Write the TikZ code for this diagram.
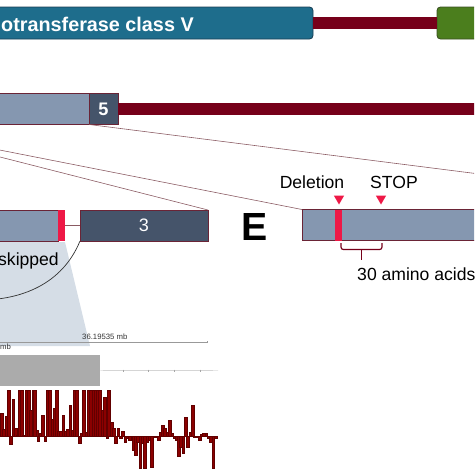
\documentclass[tikz,border=0pt]{standalone}
\usepackage{fontspec}
\setmainfont{Liberation Sans}
\usetikzlibrary{shapes.geometric}
\definecolor{domblue}{HTML}{1E6D8C}
\definecolor{domblueedge}{HTML}{1A3F55}
\definecolor{domgreen}{HTML}{4B7E1D}
\definecolor{domgreenedge}{HTML}{3A4F22}
\definecolor{intronred}{HTML}{76001A}
\definecolor{exonlight}{HTML}{8597B0}
\definecolor{exondark}{HTML}{45546A}
\definecolor{exonedge}{HTML}{6A2436}
\definecolor{hotred}{HTML}{EE1846}
\definecolor{linkbrown}{HTML}{8A5A62}
\definecolor{zoomgrey}{HTML}{D5DDE6}
\definecolor{trackgrey}{HTML}{ABABAB}
\definecolor{barred}{HTML}{8B0000}
\newcommand\pxu{0.03cm}
\tikzset{
  protdom/.style={rounded corners=3pt,line width=.7pt,inner sep=0pt,outer sep=0pt,minimum height=32*\pxu},
  exon/.style={draw=exonedge,line width=.6pt,inner sep=0pt,outer sep=0pt,minimum height=31*\pxu},
  hotbar/.style={fill=hotred,inner sep=0pt,outer sep=0pt,minimum width=7*\pxu,minimum height=31*\pxu},
  intron/.style={draw=intronred,line width=12*\pxu},
  zoomline/.style={draw=linkbrown,line width=.5pt},
  marker/.style={regular polygon,regular polygon sides=3,shape border rotate=180,fill=hotred,inner sep=0pt,minimum size=12*\pxu},
  lbl/.style={font=\fontsize{15}{17}\selectfont},
  bracket/.style={draw=intronred,line width=1pt,rounded corners=2pt},
  tinytxt/.style={font=\fontsize{6.6}{7}\selectfont,text=black!80,inner sep=0pt},
  bar/.style={fill=barred,draw=barred!70!black,line width=.25pt}}
\begin{document}
\begin{tikzpicture}[x=0.03cm,y=-0.03cm]
\useasboundingbox (0,0) rectangle (474,474);
\clip (0,0) rectangle (474,474);
% protein domains
\node[protdom,fill=domblue,draw=domblueedge,minimum width=380*\pxu,anchor=north east] (gtdom) at (313,7) {};
\node[protdom,fill=domgreen,draw=domgreenedge,minimum width=120*\pxu,anchor=north west] (grdom) at (437,7) {};
\draw[intron] (gtdom.east) -- (grdom.west);
\node[anchor=base east,text=white,font=\fontsize{16.9}{18}\selectfont\bfseries,inner sep=0pt] (gtname) at (194,31.5) {otransferase class V};
% exons
\node[exon,fill=exonlight,minimum width=200*\pxu,anchor=north east] (ex4) at (89,93.5) {};
\node[exon,fill=exondark,minimum width=29*\pxu,anchor=north west,text=white,font=\fontsize{15.5}{17}\selectfont\bfseries] (ex5) at (ex4.north east) {5};
\coordinate (ex5end) at (600,109);
\draw[intron] (ex5.east) -- (ex5end);
\coordinate (srcA) at (-40,142.2);\coordinate (srcB) at (-40,146.8);\coordinate (dstC) at (574,186);
\draw[zoomline] (ex5.south west) -- (dstC);
% skipped exon
\fill[zoomgrey] (-5,242) -- (65,242) -- (90,346) -- (-5,346) -- cycle;
\node[exon,fill=exonlight,minimum width=120*\pxu,anchor=north east] (ex2) at (58,210) {};
\node[hotbar,anchor=north west] (skipmark) at (ex2.north east) {};
\node[exon,fill=exondark,minimum width=128*\pxu,anchor=north west,text=white,font=\fontsize{15.4}{17}\selectfont] (ex3) at (80,210) {3};
\draw[zoomline] (skipmark.east) -- (ex3.west);
\draw[zoomline] (srcB) -- (ex3.north east);
\coordinate (arcend) at (-20,300);
\draw[black!80,line width=.6pt] (ex3.south west) .. controls (62,285) and (20,300) .. (arcend);
\node[lbl,anchor=base east,inner sep=0pt] (skiptxt) at (59,265) {skipped};
\node[anchor=base,font=\fontsize{33.5}{36}\selectfont\bfseries,inner sep=0pt] (panelE) at (255,240) {E};
% deletion
\node[exon,fill=exonlight,minimum width=250*\pxu,anchor=north west] (mutex) at (302,209.5) {};
\node[hotbar,anchor=north west] (delbar) at (335,209.5) {};
\draw[zoomline] (srcA) -- (mutex.north west);
\node[marker] (delmark) at (339,198.5) {};\node[marker] (stopmark) at (381,198.5) {};
\node[lbl,anchor=base,inner sep=0pt] (deltxt) at (312,188) {Deletion};
\node[lbl,anchor=base,inner sep=0pt] (stoptxt) at (394,188) {STOP};
\coordinate (brL) at (341,243);\coordinate (brR) at (382,243);\coordinate (brM) at (361.5,249.5);
\draw[bracket] (brL) |- (brM) -| (brR);
\draw[bracket] (brM) -- ++(0,10.5);
\node[lbl,anchor=base west,inner sep=0pt] (aatxt) at (357,280) {30 amino acids};
% browser track
\node[tinytxt,anchor=base west] (postxt) at (82,339.5) {36.19535 mb};
\node[tinytxt,anchor=base west] (mbtxt) at (0,349) {mb};
\draw[black!40,line width=.6pt] (0,342) -- (207,342) -- (207,340.5);
\node[fill=trackgrey,inner sep=0pt,minimum width=100*\pxu,minimum height=31*\pxu,anchor=north west] (track) at (0,355) {};
\draw[black!25,line width=.4pt] (track.east) -- (218,370.5);
\foreach \t in {123,148,174,200} {\draw[black!35,line width=.4pt] (\t,369.5) -- (\t,371.5);}
\draw[barred,line width=.5pt] (0,436) -- (217,436);
\foreach \x/\h in {0/23,2.5/7,4.8/20,7.2/46,9.5/-8,11.8/37,14.1/8,16.4/1,18.6/46,20.4/46,22.6/1,24.8/46,27.1/46,29.4/26,31.7/46,33.6/46,35.8/6,36.9/-5,39.2/3,41.4/21,43.8/-5,46.1/46,48.4/46,50.7/17,52.8/28,55/46,57.3/5,59.6/5,61.8/21,64/5,66.5/7,68.7/31,71/6,73.3/46,75.6/46,78/-7,80.1/3,82.6/46,84.9/4,87.3/46,89.6/46,91.9/46,94.2/46,96.5/46,98.5/46,101/26,103.3/39,105.7/-2,107.5/46,110/14,112.3/8,114.6/-7,116.9/8,119.2/-2,121.5/5,123.8/-6,126.1/-2,128.4/-4,130.7/-4,132.3/-14,134.4/-19,136.5/-6,138.8/-32,141.1/-7,143.4/-32,145.7/-6,148/-4,150.5/-31,152.8/-1,155.1/-1,157.2/-4,159.5/4,161.4/11,163.5/8,165.8/4,168.4/16,170.7/3,173/-2,175.3/-4,177.6/-20,179.6/-11,181.9/-17,184.3/19,186.6/-11,188.9/4,191.2/31,193.5/-1,195.8/-1,198/-4,200.3/2,202.6/3,204.9/3,207.2/-2,209.5/-6,211.8/-32,214.1/-2}
  {\filldraw[bar] (\x,436) rectangle ({\x+2.7},{436-(\h)});}
\end{tikzpicture}
\end{document}
